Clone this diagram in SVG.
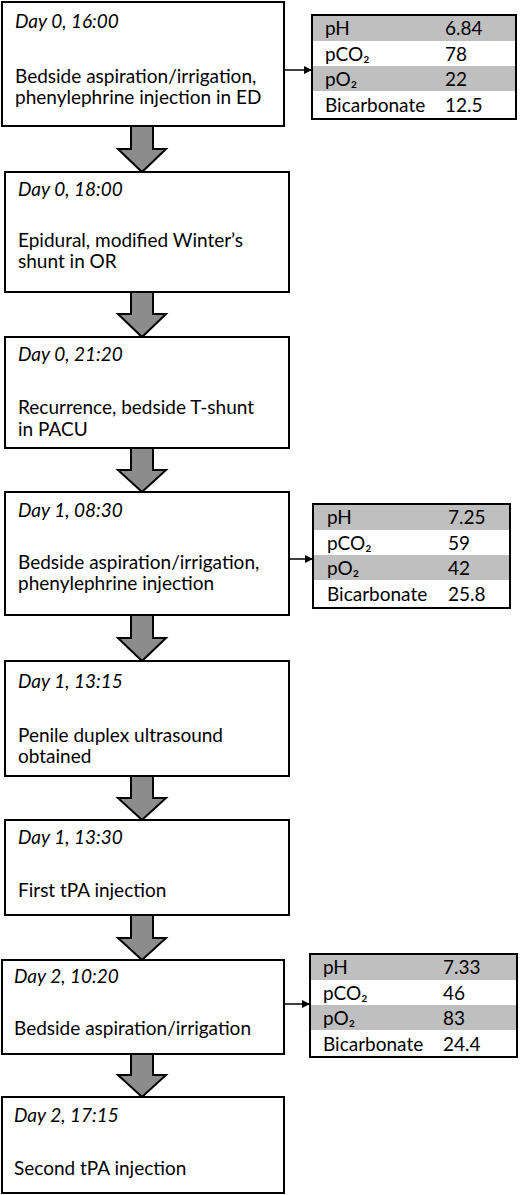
<svg xmlns="http://www.w3.org/2000/svg" width="520" height="1195" viewBox="0 0 520 1195">
<style>
.box{fill:#fff;stroke:#000;stroke-width:2}
.t{font-family:Lato,"Open Sans","Liberation Sans",sans-serif;font-size:19px;fill:#000}
.ti{font-style:italic}
.v{font-size:19px}
.row{fill:#bfbfbf}
.tb{fill:none;stroke:#000;stroke-width:2}
.big{fill:#8c8c8c;stroke:#000;stroke-width:2;stroke-linejoin:miter}
.lnk{stroke:#000;stroke-width:1.5;fill:none}
</style>
<defs>
<marker id="ah" markerWidth="8" markerHeight="8" refX="7" refY="4" orient="auto" markerUnits="userSpaceOnUse">
<path d="M0,0 L8,4 L0,8 z" fill="#000"/>
</marker>
</defs>
<rect width="520" height="1195" fill="#fff"/>
<g id="connectors">
<polygon class="big" points="131,126 153,126 153,149 166,149 142,172 118,149 131,149"/>
<polygon class="big" points="131,292 153,292 153,314 166,314 142,337 118,314 131,314"/>
<polygon class="big" points="131,448 153,448 153,470 166,470 142,492 118,470 131,470"/>
<polygon class="big" points="131,615 153,615 153,638 166,638 142,661 118,638 131,638"/>
<polygon class="big" points="131,776 153,776 153,798 166,798 142,820 118,798 131,798"/>
<polygon class="big" points="131,915 153,915 153,938 166,938 142,960 118,938 131,938"/>
<polygon class="big" points="131,1054 153,1054 153,1075 166,1075 142,1097 118,1075 131,1075"/>
<line class="lnk" x1="284" y1="70" x2="311" y2="70" marker-end="url(#ah)"/>
<line class="lnk" x1="289" y1="559" x2="312" y2="559" marker-end="url(#ah)"/>
<line class="lnk" x1="284" y1="1004" x2="309" y2="1004" marker-end="url(#ah)"/>
</g>
<g id="n1">
<rect class="box" x="2" y="2" width="282" height="124"/>
<text class="t ti" x="15" y="28">Day 0, 16:00</text>
<text class="t" x="15" y="83">Bedside aspiration/irrigation,</text>
<text class="t" x="15" y="104">phenylephrine injection in ED</text>
</g>
<g id="n2">
<rect class="box" x="5" y="172" width="284" height="120"/>
<text class="t ti" x="18" y="196">Day 0, 18:00</text>
<text class="t" x="18" y="247">Epidural, modified Winter’s</text>
<text class="t" x="18" y="268">shunt in OR</text>
</g>
<g id="n3">
<rect class="box" x="5" y="337" width="284" height="111"/>
<text class="t ti" x="18" y="361">Day 0, 21:20</text>
<text class="t" x="18" y="414">Recurrence, bedside T-shunt</text>
<text class="t" x="18" y="436">in PACU</text>
</g>
<g id="n4">
<rect class="box" x="5" y="492" width="284" height="123"/>
<text class="t ti" x="18" y="517">Day 1, 08:30</text>
<text class="t" x="18" y="569">Bedside aspiration/irrigation,</text>
<text class="t" x="18" y="590">phenylephrine injection</text>
</g>
<g id="n5">
<rect class="box" x="5" y="661" width="284" height="115"/>
<text class="t ti" x="18" y="688">Day 1, 13:15</text>
<text class="t" x="18" y="742">Penile duplex ultrasound</text>
<text class="t" x="18" y="763">obtained</text>
</g>
<g id="n6">
<rect class="box" x="5" y="820" width="284" height="95"/>
<text class="t ti" x="18" y="844">Day 1, 13:30</text>
<text class="t" x="18" y="897">First tPA injection</text>
</g>
<g id="n7">
<rect class="box" x="2" y="960" width="282" height="94"/>
<text class="t ti" x="14" y="983">Day 2, 10:20</text>
<text class="t" x="14" y="1035">Bedside aspiration/irrigation</text>
</g>
<g id="n8">
<rect class="box" x="2" y="1097" width="282" height="96"/>
<text class="t ti" x="14" y="1122">Day 2, 17:15</text>
<text class="t" x="14" y="1175">Second tPA injection</text>
</g>
<g id="table1">
<rect class="row" x="313" y="16" width="202" height="25"/>
<rect class="row" x="313" y="66" width="202" height="25"/>
<rect class="tb" x="312" y="15" width="204" height="104"/>
<text class="t v" x="325" y="35">pH</text><text class="t v" x="445" y="35">6.84</text>
<text class="t v" x="325" y="61">pCO₂</text><text class="t v" x="445" y="61">78</text>
<text class="t v" x="325" y="86">pO₂</text><text class="t v" x="445" y="86">22</text>
<text class="t v" x="325" y="112">Bicarbonate</text><text class="t v" x="445" y="112">12.5</text>
</g>
<g id="table2">
<rect class="row" x="314" y="505" width="195" height="25"/>
<rect class="row" x="314" y="555" width="195" height="25"/>
<rect class="tb" x="313" y="504" width="197" height="104"/>
<text class="t v" x="327" y="524">pH</text><text class="t v" x="448" y="524">7.25</text>
<text class="t v" x="327" y="550">pCO₂</text><text class="t v" x="448" y="550">59</text>
<text class="t v" x="327" y="575">pO₂</text><text class="t v" x="448" y="575">42</text>
<text class="t v" x="327" y="601">Bicarbonate</text><text class="t v" x="448" y="601">25.8</text>
</g>
<g id="table3">
<rect class="row" x="311" y="955" width="205" height="25"/>
<rect class="row" x="311" y="1005" width="205" height="25"/>
<rect class="tb" x="310" y="954" width="207" height="103"/>
<text class="t v" x="323" y="974">pH</text><text class="t v" x="443" y="974">7.33</text>
<text class="t v" x="323" y="1000">pCO₂</text><text class="t v" x="443" y="1000">46</text>
<text class="t v" x="323" y="1025">pO₂</text><text class="t v" x="443" y="1025">83</text>
<text class="t v" x="323" y="1051">Bicarbonate</text><text class="t v" x="443" y="1051">24.4</text>
</g>
</svg>
